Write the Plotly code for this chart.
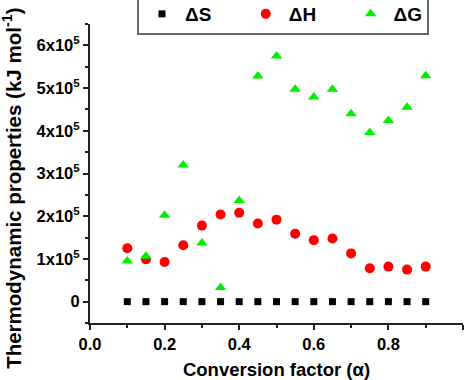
import plotly.graph_objects as go

alpha = [0.1, 0.15, 0.2, 0.25, 0.3, 0.35, 0.4, 0.45, 0.5, 0.55, 0.6, 0.65, 0.7, 0.75, 0.8, 0.85, 0.9]
dS = [0.0] * 17
dH = [1.25e5, 0.99e5, 0.93e5, 1.32e5, 1.78e5, 2.04e5, 2.08e5, 1.83e5, 1.92e5, 1.59e5,
      1.44e5, 1.48e5, 1.13e5, 0.78e5, 0.82e5, 0.75e5, 0.82e5]
dG = [0.95e5, 1.06e5, 2.02e5, 3.20e5, 1.37e5, 0.33e5, 2.37e5, 5.28e5, 5.75e5, 4.97e5,
      4.79e5, 4.97e5, 4.40e5, 3.96e5, 4.24e5, 4.55e5, 5.29e5]

y_tickvals = [0, 1e5, 2e5, 3e5, 4e5, 5e5, 6e5]
y_ticktext = ["0", "1x10<sup>5</sup>", "2x10<sup>5</sup>", "3x10<sup>5</sup>",
              "4x10<sup>5</sup>", "5x10<sup>5</sup>", "6x10<sup>5</sup>"]
x_tickvals = [0.0, 0.2, 0.4, 0.6, 0.8, 1.0]
x_ticktext = ["0.0", "0.2", "0.4", "0.6", "0.8", "1.0"]
series_names = ["ΔS", "ΔH", "ΔG"]
x_title = "Conversion factor (α)"
y_title = "Thermodynamic properties (kJ mol<sup>-1</sup>)"

FONT = "Liberation Sans, Arial, sans-serif"
PAD = "\u00a0" * 5

fig = go.Figure()
fig.add_trace(go.Scatter(x=alpha, y=dS, mode="markers", name=f"<b>{series_names[0]}</b>{PAD}",
                         marker=dict(symbol="square", size=7, color="#000000")))
fig.add_trace(go.Scatter(x=alpha, y=dH, mode="markers", name=f"<b>{series_names[1]}</b>{PAD}",
                         marker=dict(symbol="circle", size=10, color="#ff0000")))
fig.add_trace(go.Scatter(x=alpha, y=dG, mode="markers", name=f"<b>{series_names[2]}</b>",
                         marker=dict(symbol="triangle-up", size=10, color="#00ee00")))

axis_common = dict(showline=True, linecolor="#222222", linewidth=2, ticks="outside",
                   ticklen=5, tickwidth=2, tickcolor="#222222", showgrid=False,
                   zeroline=False, mirror=False,
                   tickfont=dict(family=FONT, size=16.5, color="#000000"))

fig.update_xaxes(range=[0, 1.0], tickvals=x_tickvals, ticktext=[f"<b>{t}</b>" for t in x_ticktext],
                 minor=dict(dtick=0.1, tick0=0, ticks="outside", ticklen=3,
                            tickwidth=1.5, tickcolor="#222222"),
                 title=dict(text=f"<b>{x_title}</b>",
                            font=dict(family=FONT, size=18.5, color="#000000"), standoff=11),
                 **axis_common)
fig.update_yaxes(range=[-0.5e5, 6.5e5], tickvals=y_tickvals, ticktext=[f"<b>{t}</b>" for t in y_ticktext],
                 minor=dict(dtick=0.5e5, tick0=0, ticks="outside", ticklen=3,
                            tickwidth=1.5, tickcolor="#222222"),
                 **axis_common)

fig.add_annotation(text=f"<b>{y_title}</b>", textangle=-90, showarrow=False,
                   xref="paper", yref="paper", x=-0.208, y=0.45,
                   xanchor="center", yanchor="middle",
                   font=dict(family=FONT, size=20.5, color="#000000"))

fig.update_layout(
    width=474, height=380,
    margin=dict(l=90, r=11, t=24, b=57, autoexpand=False),
    plot_bgcolor="white", paper_bgcolor="white",
    legend=dict(orientation="h", x=0.126, xanchor="left", y=1.1036, yanchor="top",
                bordercolor="#666666", borderwidth=2, bgcolor="white",
                itemwidth=36,
                font=dict(family=FONT, size=19, color="#000000")),
    showlegend=True,
)

fig.write_html("out.html", config={"displayModeBar": False},
               post_script="document.body.style.margin='0';document.body.style.padding='0';")
